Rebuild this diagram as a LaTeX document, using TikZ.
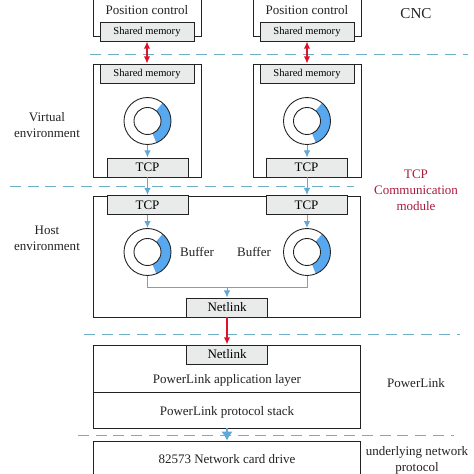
\documentclass[tikz,border=0pt]{standalone}
\usepackage{fontspec}
\setmainfont{Liberation Serif}
\usetikzlibrary{calc,arrows.meta}
\definecolor{linkblue}{HTML}{5FA8D8}
\definecolor{dashblue}{HTML}{6FAFC8}
\definecolor{fillblue}{HTML}{58A8F0}
\definecolor{linkred}{HTML}{E0122A}
\definecolor{textred}{HTML}{A81A3C}
\definecolor{boxgray}{HTML}{E9EBEB}
\definecolor{inkgray}{HTML}{222222}
\tikzset{
    layerbox/.style={draw=inkgray, line width=0.55pt, inner sep=0pt, fill=white},
    graybox/.style={layerbox, fill=boxgray, minimum height=0.38cm, font=\fontsize{7.4}{8}\selectfont},
    membox/.style={graybox, minimum width=1.88cm, font=\fontsize{6}{7}\selectfont},
    tcpbox/.style={graybox, minimum width=1.62cm},
    ringout/.style={circle, draw=inkgray, line width=0.5pt, minimum size=0.94cm, inner sep=0pt},
    ringin/.style={circle, draw=inkgray, line width=0.5pt, minimum size=0.54cm, inner sep=0pt, fill=white},
    lab/.style={inkgray, align=center, inner sep=0pt, font=\fontsize{7.4}{8.9}\selectfont},
    blueline/.style={linkblue, line width=0.55pt, ->},
    redline/.style={linkred, line width=0.7pt},
    sepline/.style={dashblue, line width=0.55pt, dash pattern=on 6.2pt off 3.9pt},
}
\newcommand{\bufwedge}[2]{\fill[fillblue] (#1,#2) ++(-50:23.5) arc[start angle=-50, end angle=68, radius=23.5] -- ($(#1,#2)+(68:13.5)$) arc[start angle=68, end angle=-50, radius=13.5] -- cycle;}
\begin{document}
\begin{tikzpicture}[>={Latex[length=4pt,width=3.6pt]}, x=0.02cm, y=-0.02cm]
    \useasboundingbox (0,0) rectangle (474,474);
    \clip (0,0) rectangle (474,474);
    % CNC
    \draw (147,10.5)node[layerbox, minimum width=2.16cm, minimum height=1.02cm, name=CncA]{};
    \draw (307,10.5)node[layerbox, minimum width=2.16cm, minimum height=1.02cm, name=CncB]{};
    \draw (147,10)node[lab, name=PosA]{Position control};
    \draw (307,10)node[lab, name=PosB]{Position control};
    \draw (147,31.5)node[membox, name=MemA]{Shared memory};
    \draw (307,31.5)node[membox, name=MemB]{Shared memory};
    % virtual environment
    \draw (147,120.5)node[layerbox, minimum width=2.16cm, minimum height=2.26cm, name=VirtA]{};
    \draw (307,120.5)node[layerbox, minimum width=2.16cm, minimum height=2.26cm, name=VirtB]{};
    \draw (147,73.5)node[membox, name=MemC]{Shared memory};
    \draw (307,73.5)node[membox, name=MemD]{Shared memory};
    \bufwedge{147.5}{121}
    \bufwedge{307}{121}
    \draw (147.5,121)node[ringin, name=InA]{};
    \draw (307,121)node[ringin, name=InB]{};
    \draw (147.5,121)node[ringout, name=RingA]{};
    \draw (307,121)node[ringout, name=RingB]{};
    \draw (147.5,167.5)node[tcpbox, name=TcpA]{TCP};
    \draw (306.5,167.5)node[tcpbox, name=TcpB]{TCP};
    % host environment
    \draw (227,256.5)node[layerbox, minimum width=5.36cm, minimum height=2.42cm, name=Host]{};
    \draw (147.5,205)node[tcpbox, name=TcpC]{TCP};
    \draw (306.5,205)node[tcpbox, name=TcpD]{TCP};
    \bufwedge{147.5}{252}
    \bufwedge{307}{252}
    \draw (147.5,252)node[ringin, name=InC]{};
    \draw (307,252)node[ringin, name=InD]{};
    \draw (147.5,252)node[ringout, name=RingC]{};
    \draw (307,252)node[ringout, name=RingD]{};
    \draw (227,307.5)node[tcpbox, name=NetA]{Netlink};
    % PowerLink
    \draw (227,369)node[layerbox, minimum width=5.36cm, minimum height=0.94cm, name=App]{};
    \draw (227,410)node[layerbox, minimum width=5.36cm, minimum height=0.72cm, name=Stack]{};
    \draw (227,354.5)node[tcpbox, name=NetB]{Netlink};
    \draw (227,380)node[lab, name=AppText]{PowerLink application layer};
    \draw (227,412)node[lab, name=StackText]{PowerLink protocol stack};
    \draw (227,470.5)node[layerbox, minimum width=5.36cm, minimum height=1.18cm, name=Drive]{};
    \draw (227,459.5)node[lab, name=DriveText]{82573 Network card drive};
    % side labels
    \draw (416,14)node[lab, font=\fontsize{8.6}{10}\selectfont, name=LabCnc]{CNC};
    \draw (47,125)node[lab, font=\fontsize{7.4}{9}\selectfont, name=LabVirt]{Virtual\\environment};
    \draw (47,238)node[lab, font=\fontsize{7.4}{9}\selectfont, name=LabHost]{Host\\environment};
    \draw (416,190)node[lab, textred, font=\fontsize{7.4}{9.2}\selectfont, name=LabTcp]{TCP\\Communication\\module};
    \draw (197,252)node[lab, name=BufA]{Buffer};
    \draw (254,252)node[lab, name=BufB]{Buffer};
    \draw (416,383)node[lab, name=LabPow]{PowerLink};
    \draw (417,460)node[lab, font=\fontsize{7.4}{9}\selectfont, name=LabNet]{underlying network\\protocol};
    % separators
    \coordinate (SepAl) at (90,54);   \coordinate (SepAr) at (468,54);
    \coordinate (SepBl) at (10,186);  \coordinate (SepBr) at (354,186);
    \coordinate (SepCl) at (84,334.5); \coordinate (SepCr) at (460,334.5);
    \coordinate (SepDl) at (78,435.5); \coordinate (SepDr) at (454,435.5);
    \draw[sepline] (SepAl) -- (SepAr);
    \draw[sepline] (SepBl) -- (SepBr);
    \draw[sepline] (SepCl) -- (SepCr);
    \draw[sepline] (SepDl) -- (SepDr);
    % links
    \draw[redline, <->] (MemA.south) -- (MemC.north);
    \draw[redline, <->] (MemB.south) -- (MemD.north);
    \draw[blueline] (RingA.south) -- (TcpA.north);
    \draw[blueline] (RingB.south) -- (RingB.south |- TcpB.north);
    \draw[blueline] (TcpA.south) -- (TcpC.north);
    \draw[blueline] (RingB.south |- TcpB.south) -- (RingB.south |- TcpD.north);
    \draw[blueline] (TcpC.south) -- (RingC.north);
    \draw[blueline] (RingD.north |- TcpD.south) -- (RingD.north);
    \coordinate (Joint) at (NetA.north |- 0,287);
    \draw[linkblue, line width=0.55pt] (RingC.south) |- (Joint);
    \draw[linkblue, line width=0.55pt] (RingD.south) |- (Joint);
    \draw[blueline] (Joint) -- (NetA.north);
    \draw[redline, line width=0.9pt, ->] (NetA.south) -- (NetB.north);
    \draw[linkblue, line width=1pt, -{Latex[length=5pt,width=6.5pt]}] (Stack.south) -- (Drive.north);
\end{tikzpicture}
\end{document}
